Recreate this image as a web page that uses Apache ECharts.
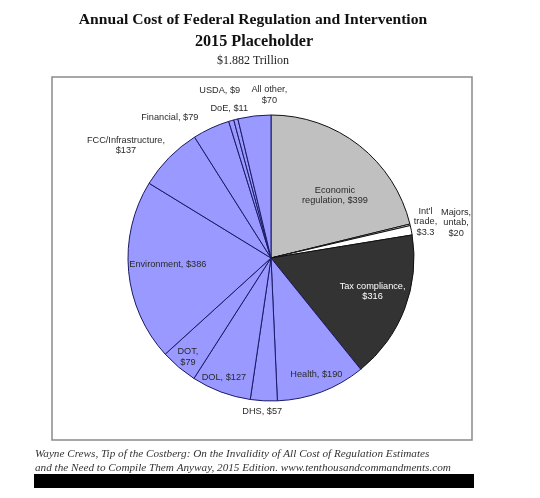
<!DOCTYPE html>
<html>
<head>
<meta charset="utf-8">
<script src="https://cdn.jsdelivr.net/npm/echarts@6/dist/echarts.min.js"></script>
<style>
html, body { margin: 0; padding: 0; background: #fff; }
#main { width: 540px; height: 498px; }
</style>
</head>
<body>
<div id="main"></div>
<script>
// slices, clockwise from 12 o'clock ($ billions)
var categories = ['Economic regulation', "Int'l trade", 'Majors, untab', 'Tax compliance', 'Health', 'DHS', 'DOL', 'DOT', 'Environment', 'FCC/Infrastructure', 'Financial', 'DoE', 'USDA', 'All other'];
var values = [399, 3.3, 20, 316, 190, 57, 127, 79, 386, 137, 79, 11, 9, 70];
var groups = ['econ', 'white', 'white', 'tax', 'fed', 'fed', 'fed', 'fed', 'fed', 'fed', 'fed', 'fed', 'fed', 'fed'];

// how each label is broken into lines
var labelHead = {
    'Economic regulation': 'Economic\nregulation, ',
    "Int'l trade": "Int'l\ntrade,\n",
    'Majors, untab': 'Majors,\nuntab,\n',
    'Tax compliance': 'Tax compliance,\n',
    'DOT': 'DOT,\n',
    'FCC/Infrastructure': 'FCC/Infrastructure,\n',
    'All other': 'All other,\n'
};

// nudges from the default inside label spot
var labelShift = {
    'Economic regulation': [18, -4],
    "Int'l trade": [82, -19],
    'Majors, untab': [112, -21],
    'Tax compliance': [32, 7],
    'Health': [19, 47],
    'DHS': [-5, 79],
    'DOL': [-21, 50],
    'DOT': [-35, 42],
    'Environment': [-29, -1],
    'FCC/Infrastructure': [-92, -60],
    'Financial': [-70, -73],
    'DoE': [-21, -78],
    'USDA': [-33, -95],
    'All other': [7, -89]
};

var fills = { econ: '#c0c0c0', white: '#ffffff', tax: '#333333', fed: '#9999ff' };
var edges = { econ: '#111111', white: '#111111', tax: '#111111', fed: '#1a1a66' };

var pieData = [];
for (let i = 0; i < categories.length; i++) {
    pieData.push({
        name: categories[i],
        value: values[i],
        itemStyle: { color: fills[groups[i]], borderColor: edges[groups[i]], borderWidth: 1 },
        label: { color: groups[i] == 'tax' ? '#ffffff' : '#2a2a2a' }
    });
}

var myChart = echarts.init(document.getElementById('main'));
var option = {
    backgroundColor: '#ffffff',
    animation: false,
    title: [
        {
            text: 'Annual Cost of Federal Regulation and Intervention',
            left: 248, top: 7, textAlign: 'center',
            textStyle: { fontFamily: 'Liberation Serif', fontWeight: 'bold', fontSize: 15.6, color: '#111' }
        },
        {
            text: '2015 Placeholder',
            left: 249, top: 29, textAlign: 'center',
            textStyle: { fontFamily: 'Liberation Serif', fontWeight: 'bold', fontSize: 16.2, color: '#111' }
        },
        {
            text: '$1.882 Trillion',
            left: 248, top: 50, textAlign: 'center',
            textStyle: { fontFamily: 'Liberation Serif', fontWeight: 'normal', fontSize: 12, color: '#222' }
        }
    ],
    graphic: [
        {
            type: 'rect', z: -1,
            shape: { x: 52, y: 77, width: 420, height: 363 },
            style: { fill: 'none', stroke: '#8a8a8a', lineWidth: 1.5 }
        },
        {
            type: 'text', x: 35, y: 447,
            style: {
                text: 'Wayne Crews, Tip of the Costberg: On the Invalidity of All Cost of Regulation Estimates\nand the Need to Compile Them Anyway, 2015 Edition. www.tenthousandcommandments.com',
                fontFamily: 'Liberation Serif', fontStyle: 'italic', fontSize: 11.2, lineHeight: 14, fill: '#333'
            }
        },
        {
            type: 'rect',
            shape: { x: 34, y: 474, width: 440, height: 14 },
            style: { fill: '#000' }
        }
    ],
    series: [{
        type: 'pie',
        center: [271, 258],
        radius: 143,
        startAngle: 90,
        clockwise: true,
        avoidLabelOverlap: false,
        emphasis: { disabled: true },
        label: {
            show: true,
            position: 'inside',
            fontFamily: 'Liberation Sans',
            fontSize: 9.2,
            lineHeight: 10.5,
            align: 'center',
            formatter: function (p) {
                var head = labelHead[p.name] || (p.name + ', ');
                return head + '$' + p.value;
            }
        },
        labelLine: { show: false },
        labelLayout: function (params) {
            var s = labelShift[categories[params.dataIndex]];
            return { dx: s[0], dy: s[1], hideOverlap: false };
        },
        data: pieData
    }]
};
myChart.setOption(option);
</script>
</body>
</html>
